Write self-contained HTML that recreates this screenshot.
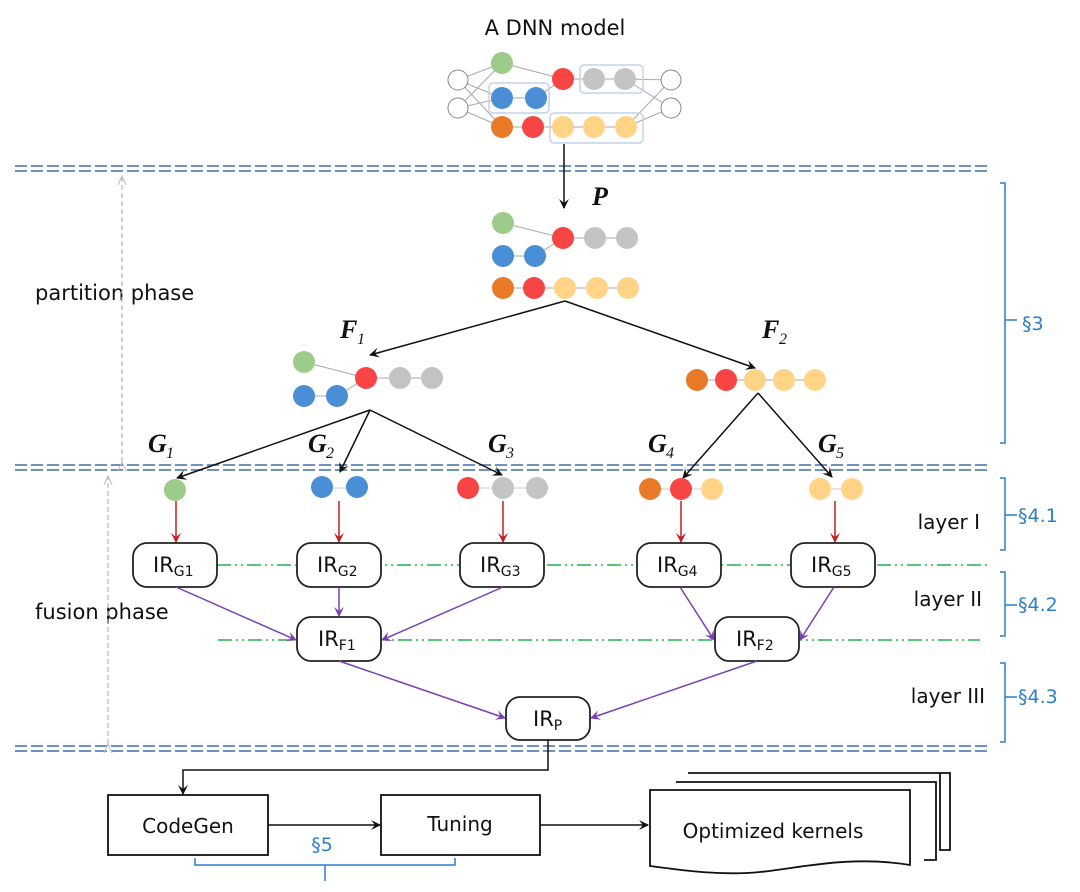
<!DOCTYPE html>
<html><head><meta charset="utf-8"><style>
html,body{margin:0;padding:0;background:#fff;}
svg{display:block;font-family:"DejaVu Sans","Liberation Sans",sans-serif;}
.m{font-family:"Liberation Serif",serif;font-style:italic;font-weight:bold;font-size:26px;fill:#111;}
.ms{font-family:"Liberation Serif",serif;font-style:italic;font-size:16px;fill:#111;}
.bl{fill:#2f7fc8;font-size:19px;}
</style></head><body>
<svg width="1080" height="892" viewBox="0 0 1080 892" xmlns="http://www.w3.org/2000/svg">
<defs>
<marker id="ak" markerWidth="10" markerHeight="10" refX="9" refY="5" orient="auto" markerUnits="userSpaceOnUse"><path d="M0,0 L10,5 L0,10 L4,5z" fill="#111"/></marker>
<marker id="ar" markerWidth="10" markerHeight="10" refX="9" refY="5" orient="auto" markerUnits="userSpaceOnUse"><path d="M0,0 L10,5 L0,10 L4,5z" fill="#c81e1e"/></marker>
<marker id="ap" markerWidth="10" markerHeight="10" refX="9" refY="5" orient="auto" markerUnits="userSpaceOnUse"><path d="M0,0 L10,5 L0,10 L4,5z" fill="#7b3fb5"/></marker>
<marker id="ag" markerWidth="10" markerHeight="10" refX="9" refY="5" orient="auto" markerUnits="userSpaceOnUse"><path d="M0,1 L9,5 L0,9" fill="none" stroke="#bbb"/></marker>
</defs>
<g stroke="#6f93bd" stroke-width="2" stroke-dasharray="12,4">
<line x1="15" y1="166" x2="990" y2="166"/><line x1="15" y1="171" x2="990" y2="171"/>
<line x1="15" y1="465" x2="990" y2="465"/><line x1="15" y1="470" x2="990" y2="470"/>
<line x1="15" y1="746" x2="990" y2="746"/><line x1="15" y1="751" x2="990" y2="751"/>
</g>
<text x="555" y="35" font-size="21" text-anchor="middle" fill="#111">A DNN model</text>
<g stroke="#aaa" stroke-width="1" fill="none">
<line x1="458" y1="80" x2="502" y2="63"/><line x1="458" y1="80" x2="502" y2="98"/><line x1="458" y1="80" x2="502" y2="127"/>
<line x1="458" y1="108" x2="502" y2="63"/><line x1="458" y1="108" x2="502" y2="98"/><line x1="458" y1="108" x2="502" y2="127"/>
<line x1="502" y1="63" x2="563" y2="79"/><line x1="536" y1="98" x2="563" y2="79"/><line x1="502" y1="98" x2="536" y2="98"/>
<line x1="563" y1="79" x2="625" y2="79"/><line x1="502" y1="127" x2="626" y2="127"/>
<line x1="625" y1="79" x2="671" y2="80"/><line x1="625" y1="79" x2="671" y2="108"/><line x1="626" y1="127" x2="671" y2="80"/><line x1="626" y1="127" x2="671" y2="108"/>
</g>
<g fill="none" stroke="#c3d3ec" stroke-width="1.5">
<rect x="489" y="83" width="60" height="30" rx="4"/><rect x="580" y="65" width="63" height="28" rx="4"/><rect x="550" y="113" width="93" height="30" rx="4"/>
</g>
<g stroke="#888" fill="#fff"><circle cx="458" cy="80" r="10"/><circle cx="458" cy="108" r="10"/><circle cx="671" cy="80" r="10"/><circle cx="671" cy="108" r="10"/></g>
<g>
<circle cx="502" cy="63" r="11" fill="#9ccb8a"/><circle cx="502" cy="98" r="11" fill="#4a8fd6"/><circle cx="536" cy="98" r="11" fill="#4a8fd6"/>
<circle cx="563" cy="79" r="11" fill="#f74545"/><circle cx="594" cy="79" r="11" fill="#c4c4c4"/><circle cx="625" cy="79" r="11" fill="#c4c4c4"/>
<circle cx="502" cy="127" r="11" fill="#e97a28"/><circle cx="533" cy="127" r="11" fill="#f74545"/><circle cx="563" cy="127" r="11" fill="#ffd487"/><circle cx="594" cy="127" r="11" fill="#ffd487"/><circle cx="626" cy="127" r="11" fill="#ffd487"/>
</g>
<line x1="564" y1="144" x2="564" y2="208" stroke="#111" stroke-width="1.5" marker-end="url(#ak)"/>
<text x="592" y="205" class="m">P</text>
<g stroke="#aaa"><line x1="503" y1="223" x2="563" y2="238"/><line x1="535" y1="256" x2="563" y2="238"/><line x1="503" y1="256" x2="535" y2="256"/><line x1="563" y1="238" x2="627" y2="238"/><line x1="503" y1="288" x2="628" y2="288"/></g>
<circle cx="503" cy="223" r="11" fill="#9ccb8a"/><circle cx="503" cy="256" r="11" fill="#4a8fd6"/><circle cx="535" cy="256" r="11" fill="#4a8fd6"/>
<circle cx="563" cy="238" r="11" fill="#f74545"/><circle cx="595" cy="238" r="11" fill="#c4c4c4"/><circle cx="627" cy="238" r="11" fill="#c4c4c4"/>
<circle cx="503" cy="288" r="11" fill="#e97a28"/><circle cx="534" cy="288" r="11" fill="#f74545"/><circle cx="565" cy="288" r="11" fill="#ffd487"/><circle cx="597" cy="288" r="11" fill="#ffd487"/><circle cx="628" cy="288" r="11" fill="#ffd487"/>
<g stroke="#111" stroke-width="1.5" marker-end="url(#ak)"><line x1="565" y1="301" x2="370" y2="355"/><line x1="565" y1="301" x2="755" y2="368"/></g>
<text x="340" y="338" class="m">F</text><text x="357" y="344" class="ms">1</text>
<text x="762" y="338" class="m">F</text><text x="779" y="344" class="ms">2</text>
<g stroke="#aaa"><line x1="304" y1="362" x2="366" y2="378"/><line x1="337" y1="396" x2="366" y2="378"/><line x1="304" y1="396" x2="337" y2="396"/><line x1="366" y1="378" x2="432" y2="378"/></g>
<circle cx="304" cy="362" r="11" fill="#9ccb8a"/><circle cx="304" cy="396" r="11" fill="#4a8fd6"/><circle cx="337" cy="396" r="11" fill="#4a8fd6"/>
<circle cx="366" cy="378" r="11" fill="#f74545"/><circle cx="400" cy="378" r="11" fill="#c4c4c4"/><circle cx="432" cy="378" r="11" fill="#c4c4c4"/>
<line x1="697" y1="380" x2="815" y2="380" stroke="#aaa"/>
<circle cx="697" cy="380" r="11" fill="#e97a28"/><circle cx="726" cy="380" r="11" fill="#f74545"/><circle cx="755" cy="380" r="11" fill="#ffd487"/><circle cx="784" cy="380" r="11" fill="#ffd487"/><circle cx="815" cy="380" r="11" fill="#ffd487"/>
<g stroke="#111" stroke-width="1.5" marker-end="url(#ak)">
<line x1="370" y1="410" x2="177" y2="478"/><line x1="370" y1="410" x2="340" y2="472"/><line x1="370" y1="410" x2="502" y2="475"/>
<line x1="758" y1="393" x2="683" y2="478"/><line x1="758" y1="393" x2="832" y2="477"/>
</g>
<g><text x="148" y="452" class="m">G</text><text x="166" y="458" class="ms">1</text>
<text x="308" y="452" class="m">G</text><text x="326" y="458" class="ms">2</text>
<text x="488" y="452" class="m">G</text><text x="506" y="458" class="ms">3</text>
<text x="648" y="452" class="m">G</text><text x="666" y="458" class="ms">4</text>
<text x="818" y="452" class="m">G</text><text x="836" y="458" class="ms">5</text></g>
<g stroke="#ccc"><line x1="322" y1="488" x2="357" y2="488"/><line x1="468" y1="488" x2="537" y2="488"/><line x1="650" y1="489" x2="712" y2="489"/><line x1="820" y1="489" x2="852" y2="489"/></g>
<circle cx="175" cy="490" r="11" fill="#9ccb8a"/>
<circle cx="322" cy="487" r="11" fill="#4a8fd6"/><circle cx="357" cy="487" r="11" fill="#4a8fd6"/>
<circle cx="468" cy="488" r="11" fill="#f74545"/><circle cx="503" cy="488" r="11" fill="#c4c4c4"/><circle cx="537" cy="488" r="11" fill="#c4c4c4"/>
<circle cx="650" cy="489" r="11" fill="#e97a28"/><circle cx="681" cy="489" r="11" fill="#f74545"/><circle cx="712" cy="489" r="11" fill="#ffd487"/>
<circle cx="820" cy="489" r="11" fill="#ffd487"/><circle cx="852" cy="489" r="11" fill="#ffd487"/>
<g stroke="#c81e1e" stroke-width="1.5" marker-end="url(#ar)">
<line x1="176" y1="501" x2="176" y2="542"/><line x1="339" y1="501" x2="339" y2="542"/><line x1="503" y1="501" x2="503" y2="542"/><line x1="681" y1="501" x2="681" y2="542"/><line x1="835" y1="501" x2="835" y2="542"/>
</g>
<g stroke="#22b24c" stroke-width="1.5" stroke-dasharray="14,4,2,4,2,4">
<line x1="217" y1="565" x2="990" y2="565"/><line x1="218" y1="640" x2="980" y2="640"/>
</g>
<g fill="#fff" stroke="#222" stroke-width="1.8">
<rect x="133" y="543" width="84" height="44" rx="14"/><rect x="297" y="543" width="84" height="44" rx="14"/><rect x="460" y="543" width="84" height="44" rx="14"/><rect x="637" y="543" width="84" height="44" rx="14"/><rect x="791" y="543" width="84" height="44" rx="14"/>
<rect x="297" y="617" width="84" height="44" rx="14"/><rect x="715" y="617" width="84" height="44" rx="14"/><rect x="506" y="697" width="84" height="43" rx="14"/>
</g>
<g font-size="21" fill="#111">
<text x="153" y="572">IR<tspan font-size="14" dy="4">G1</tspan></text>
<text x="317" y="572">IR<tspan font-size="14" dy="4">G2</tspan></text>
<text x="480" y="572">IR<tspan font-size="14" dy="4">G3</tspan></text>
<text x="657" y="572">IR<tspan font-size="14" dy="4">G4</tspan></text>
<text x="811" y="572">IR<tspan font-size="14" dy="4">G5</tspan></text>
<text x="318" y="646">IR<tspan font-size="14" dy="4">F1</tspan></text>
<text x="736" y="646">IR<tspan font-size="14" dy="4">F2</tspan></text>
<text x="533" y="726">IR<tspan font-size="14" dy="4">P</tspan></text>
</g>
<g stroke="#7b3fb5" stroke-width="1.5" marker-end="url(#ap)">
<line x1="176" y1="587" x2="296" y2="640"/><line x1="339" y1="587" x2="339" y2="616"/><line x1="503" y1="587" x2="382" y2="640"/>
<line x1="680" y1="587" x2="714" y2="640"/><line x1="834" y1="587" x2="800" y2="640"/>
<line x1="339" y1="661" x2="505" y2="718"/><line x1="757" y1="661" x2="591" y2="718"/>
</g>
<text x="35" y="300" font-size="21" fill="#111">partition phase</text>
<text x="35" y="619" font-size="21" fill="#111">fusion phase</text>
<g stroke="#bbb" stroke-width="1.3" stroke-dasharray="5,3" marker-end="url(#ag)" marker-start="url(#ag)">
<line x1="122" y1="462" x2="122" y2="176"/>
<line x1="108" y1="744" x2="108" y2="476"/>
</g>
<g stroke="#2f7fc8" stroke-width="1.5" fill="none">
<path d="M1000,183 h5 v260 h-5 M1005,320 h12"/>
<path d="M1000,478 h5 v72 h-5 M1005,515 h12"/>
<path d="M1000,572 h5 v64 h-5 M1005,605 h12"/>
<path d="M1000,663 h5 v79 h-5 M1005,697 h12"/>
<path d="M195,858 v7 h260 v-7 M325,865 v16"/>
</g>
<text x="1022" y="330" class="bl">§3</text>
<text x="1018" y="522" class="bl">§4.1</text>
<text x="1018" y="611" class="bl">§4.2</text>
<text x="1018" y="703" class="bl">§4.3</text>
<g font-size="20" fill="#111" text-anchor="end">
<text x="980" y="529">layer I</text><text x="982" y="606">layer II</text><text x="985" y="703">layer III</text>
</g>
<path d="M548,740 V770 H183 V794" fill="none" stroke="#111" stroke-width="1.5" marker-end="url(#ak)"/>
<g fill="#fff" stroke="#111" stroke-width="1.8">
<rect x="108" y="795" width="160" height="60"/><rect x="381" y="795" width="159" height="60"/>
</g>
<text x="188" y="833" font-size="20" text-anchor="middle" fill="#111">CodeGen</text>
<text x="460" y="831" font-size="20" text-anchor="middle" fill="#111">Tuning</text>
<text x="322" y="851" class="bl" text-anchor="middle">§5</text>
<g stroke="#111" stroke-width="1.5" marker-end="url(#ak)">
<line x1="268" y1="825" x2="380" y2="825"/><line x1="540" y1="825" x2="648" y2="825"/>
</g>
<g fill="#fff" stroke="#111" stroke-width="1.8">
<path d="M688,773 H950 V850 H940 V773"/>
<path d="M676,782 H936 V860 H924"/>
<path d="M650,790 H910 V865 C850,855 800,868 760,872 C720,876 680,870 650,866 Z"/>
</g>
<text x="773" y="838" font-size="20" text-anchor="middle" fill="#111">Optimized kernels</text>
</svg>
</body></html>
